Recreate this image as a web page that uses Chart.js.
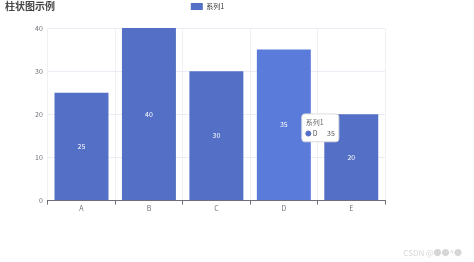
<!DOCTYPE html>
<html>
<head>
<meta charset="utf-8">
<script src="https://cdn.jsdelivr.net/npm/chart.js@4"></script>
<style>
  html, body { margin: 0; padding: 0; background: #fff; }
  #wrap { position: relative; width: 474px; height: 262px; }
  #mark { position: absolute; right: 12px; bottom: 4px; font: 8px "Noto Sans CJK SC", sans-serif; color: #d6d6d6; }
</style>
</head>
<body>
<div id="wrap">
  <canvas id="grafico" width="474" height="262"></canvas>
  <div id="mark">CSDN @●●^●</div>
</div>
<script>
const categorias = ['A', 'B', 'C', 'D', 'E'];
const valores = [25, 40, 30, 35, 20];
const nomeSerie = '系列1';
const ticksY = [0, 10, 20, 30, 40];
const titulo = '柱状图示例';

const fonte = '"Noto Sans CJK SC", "Noto Sans", sans-serif';

// Tooltip ao lado da barra, como no ECharts
Chart.Tooltip.positioners.lado = function(elements) {
    if (!elements.length) return false;
    const el = elements[0].element;
    return { x: el.x + 16, y: (el.y + el.base) / 2 + 3, xAlign: 'left', yAlign: 'center' };
};

// Título no canto superior esquerdo
const pluginTitulo = {
    id: 'titulo',
    afterDraw(chart) {
        const c = chart.ctx;
        c.save();
        c.font = 'bold 10px ' + fonte;
        c.fillStyle = '#464646';
        c.textBaseline = 'middle';
        c.fillText(titulo, 5, 6);
        c.restore();
    }
};

// Espaço extra abaixo da legenda
const pluginEspaco = {
    id: 'espaco',
    beforeInit(chart) {
        const fitOriginal = chart.legend.fit;
        chart.legend.fit = function() {
            fitOriginal.bind(chart.legend)();
            this.height += 8;
        };
    }
};

// Rótulos brancos no meio das barras
const pluginRotulos = {
    id: 'rotulos',
    afterDatasetsDraw(chart) {
        const c = chart.ctx;
        const meta = chart.getDatasetMeta(0);
        c.save();
        c.font = '7px ' + fonte;
        c.fillStyle = '#ffffff';
        c.textAlign = 'center';
        c.textBaseline = 'middle';
        meta.data.forEach((bar, i) => {
            c.fillText(String(valores[i]), bar.x, (bar.y + bar.base) / 2);
        });
        c.restore();
    }
};

const ctx = document.getElementById('grafico').getContext('2d');
const grafico = new Chart(ctx, {
    type: 'bar',
    data: {
        labels: categorias,
        datasets: [{
            label: nomeSerie,
            data: valores,
            backgroundColor: '#5470c6',
            hoverBackgroundColor: '#5b7bda',
            categoryPercentage: 0.8,
            barPercentage: 1.0
        }]
    },
    options: {
        responsive: false,
        animation: false,
        layout: {
            padding: { left: 30, right: 89, top: 0, bottom: 49 }
        },
        scales: {
            x: {
                grid: {
                    color: '#eef0f4',
                    tickColor: '#6e7079',
                    tickLength: 4,
                    offset: true
                },
                border: { color: '#6e7079' },
                ticks: {
                    color: '#6e7079',
                    font: { size: 7, family: fonte },
                    padding: 0
                }
            },
            y: {
                min: 0,
                max: 40,
                afterBuildTicks: (axis) => { axis.ticks = ticksY.map(v => ({ value: v })); },
                grid: { color: '#e9edf4', drawTicks: false },
                border: { display: false },
                ticks: {
                    color: '#6e7079',
                    font: { size: 7, family: fonte },
                    padding: 5
                }
            }
        },
        plugins: {
            legend: {
                position: 'top',
                labels: {
                    boxWidth: 12,
                    boxHeight: 7,
                    color: '#333',
                    font: { size: 7, family: fonte },
                    padding: 3,
                    useBorderRadius: true
                }
            },
            tooltip: {
                position: 'lado',
                backgroundColor: '#ffffff',
                borderColor: '#dddddd',
                borderWidth: 1,
                titleColor: '#666',
                bodyColor: '#555',
                titleFont: { size: 7, family: fonte, weight: 'normal' },
                bodyFont: { size: 7, family: fonte },
                titleMarginBottom: 3,
                padding: 4,
                caretSize: 0,
                cornerRadius: 3,
                usePointStyle: true,
                boxWidth: 5,
                boxHeight: 5,
                callbacks: {
                    title: (items) => items[0].dataset.label,
                    label: (item) => item.label + '      ' + item.formattedValue,
                    labelColor: () => ({ borderColor: '#5470c6', backgroundColor: '#5470c6' }),
                    labelPointStyle: () => ({ pointStyle: 'circle', rotation: 0 })
                }
            }
        },
        elements: {
            bar: { borderRadius: 0 }
        }
    },
    plugins: [pluginEspaco, pluginTitulo, pluginRotulos]
});

// Simula o hover na barra D
const ativo = [{ datasetIndex: 0, index: 3 }];
grafico.setActiveElements(ativo);
grafico.tooltip.setActiveElements(ativo, { x: 0, y: 0 });
grafico.update();
</script>
</body>
</html>
